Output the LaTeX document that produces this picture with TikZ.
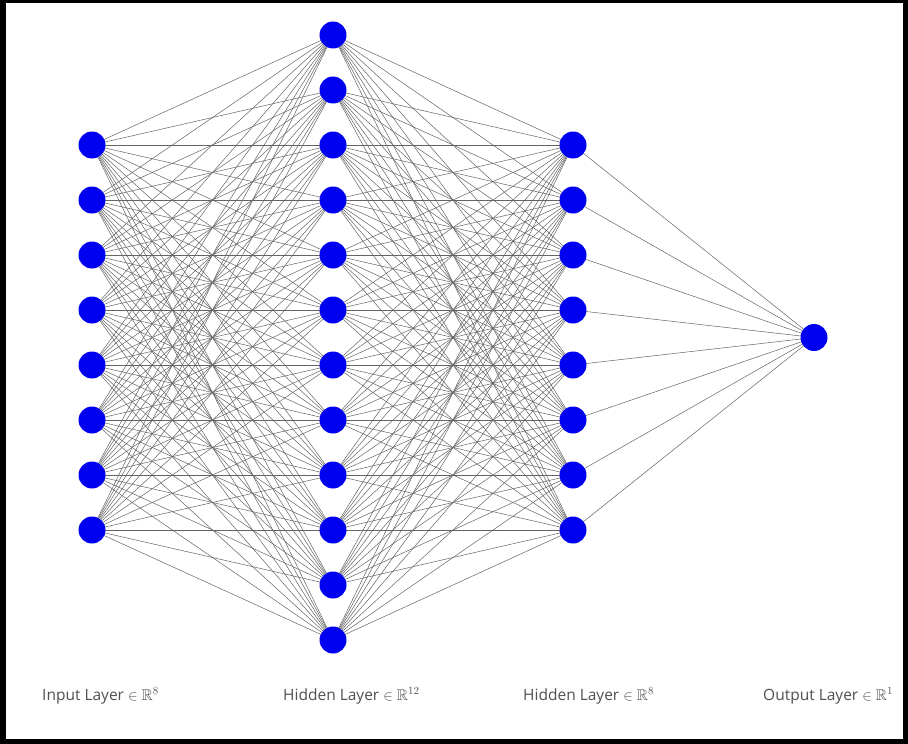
\documentclass[tikz,border=0pt]{standalone}
\usepackage{amsmath, amssymb}
\usepackage{fontspec}
\setmainfont{Open Sans}
\usetikzlibrary{positioning, backgrounds}
\definecolor{neuroncolor}{RGB}{0,0,240}
\definecolor{edgecolor}{RGB}{100,100,100}
\definecolor{labelcolor}{RGB}{80,80,80}

\begin{document}
\begin{tikzpicture}[x=1bp, y=-1bp,
    % Styles
    neuron/.style={circle, fill=neuroncolor, minimum size=27bp, inner sep=0},
    weight/.style={draw=edgecolor, line width=0.5bp},
    layer label/.style={anchor=base west, text=labelcolor, font=\fontsize{15.5bp}{18bp}\selectfont, inner sep=0},
]
    % === Neurons ===
    % Input layer (8) and second hidden layer (8)
    \foreach \i in {0,...,7} {
        \node[neuron] (in-\i) at (92, 145+55*\i) {};
        \node[neuron] (hb-\i) at (573, 145+55*\i) {};
    }
    % First hidden layer (12)
    \foreach \i in {0,...,11}
        \node[neuron] (ha-\i) at (333, 35+55*\i) {};
    % Output layer (1)
    \node[neuron] (out-0) at (814, 337.5) {};

    % === Layer labels ===
    \node[layer label] (in-label) at (42, 700) {Input Layer $\in$ $\mathbb{R}^{8}$};
    \node[layer label] (ha-label) at (283, 700) {Hidden Layer $\in$ $\mathbb{R}^{12}$};
    \node[layer label] (hb-label) at (523, 700) {Hidden Layer $\in$ $\mathbb{R}^{8}$};
    \node[layer label] (out-label) at (763, 700) {Output Layer $\in$ $\mathbb{R}^{1}$};

    \begin{scope}[on background layer]
        % === Frame ===
        \fill[black] (0,0) rectangle (908,744);
        \fill[white] (6,3) rectangle (903,739);

        % === Weights (behind neurons) ===
        \foreach \i in {0,...,7}
            \foreach \j in {0,...,11} {
                \draw[weight] (in-\i.center) -- (ha-\j.center);
                \draw[weight] (ha-\j.center) -- (hb-\i.center);
            }
        \foreach \i in {0,...,7}
            \draw[weight] (hb-\i.center) -- (out-0.center);
    \end{scope}
    \useasboundingbox (0,0) rectangle (908,744);
\end{tikzpicture}
\end{document}
